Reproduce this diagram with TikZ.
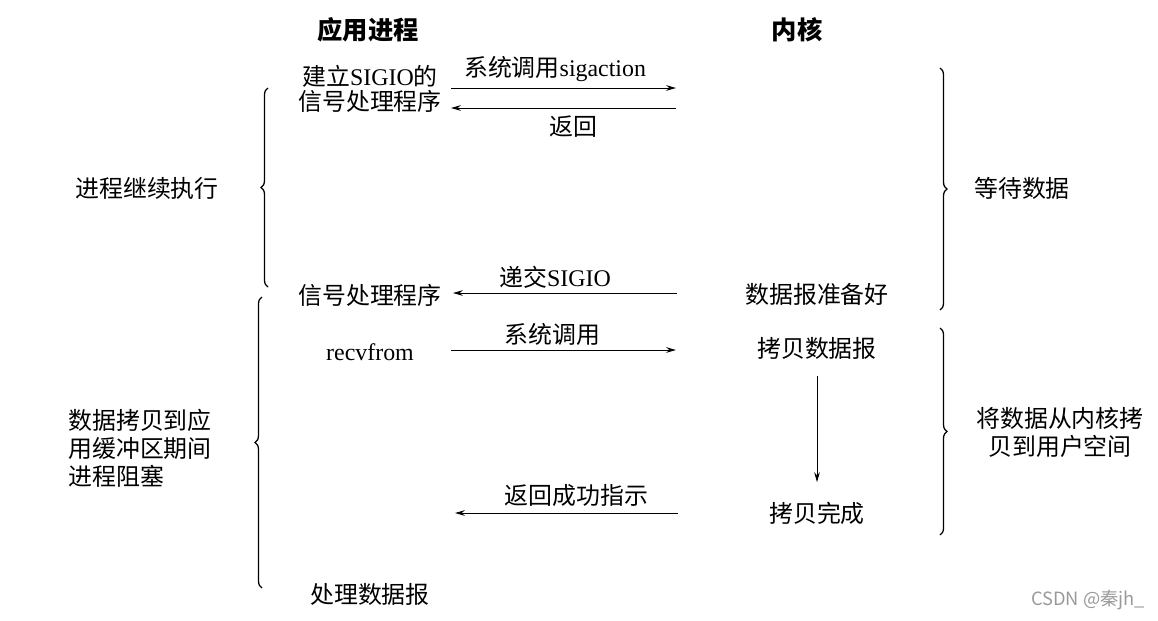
\documentclass[tikz,border=0pt]{standalone}
\usepackage{fontspec}
\setmainfont{Noto Sans CJK SC}
\newfontfamily\lat{Liberation Serif}
\usetikzlibrary{positioning,arrows.meta,decorations.pathreplacing}

\begin{document}
\begin{tikzpicture}[x=0.025cm, y=-0.025cm,
  txt/.style={font=\fontsize{17}{20}\selectfont, inner sep=1pt},
  head/.style={font=\fontsize{18}{20}\selectfont\bfseries, inner sep=1pt},
  msg/.style={-{Stealth[length=7pt,width=4pt]}, line width=0.7pt},
  curly/.style={decorate, decoration={brace, amplitude=5pt}, line width=0.9pt}]
\useasboundingbox (0,0) rectangle (1158,620);

\node[head] (app) at (368,30) {应用进程};
\node[head] (kern) at (797,30) {内核};

% process side
\node[txt, align=center, font=\fontsize{17}{18}\selectfont] (setup) at (370,89) {建立{\lat SIGIO}的\\信号处理程序};
\node[txt] (handler) at (370,295) {信号处理程序};
\node[txt] (recv) at (370,352) {\lat recvfrom};
\node[txt] (proc) at (370,594) {处理数据报};

% kernel side
\node[txt] (ready) at (817,294) {数据报准备好};
\node[txt] (copy) at (817,348) {拷贝数据报};
\node[txt] (done) at (817,513) {拷贝完成};

\coordinate (p1) at (451,88);   \coordinate (k1) at (676,88);
\coordinate (p2) at (451,108);  \coordinate (k2) at (676,108);
\coordinate (p3) at (453,293);  \coordinate (k3) at (677,293);
\coordinate (p4) at (451,350);  \coordinate (k4) at (676,350);
\coordinate (p5) at (455,513);  \coordinate (k5) at (678,513);

\draw[msg] (p1) -- (k1)
    node[txt, midway, above=3pt, xshift=-6pt] {系统调用{\lat sigaction}};
\draw[msg] (k2) -- (p2)
    node[txt, midway, below=4pt, xshift=7pt] {返回};
\draw[msg] (k3) -- (p3)
    node[txt, midway, above=2pt, xshift=-7pt] {递交{\lat SIGIO}};
\draw[msg] (p4) -- (k4)
    node[txt, midway, above=2pt, xshift=-8pt] {系统调用};
\draw[msg] (k5) -- (p5)
    node[txt, midway, above=3pt, xshift=7pt] {返回成功指示};
\draw[msg, shorten <=0.38cm, shorten >=0.45cm] (copy) -- (done);

% braces
\coordinate (lb1a) at (268,287); \coordinate (lb1b) at (268,88);
\coordinate (lb2a) at (262,588); \coordinate (lb2b) at (262,297);
\coordinate (rb1a) at (940,68);  \coordinate (rb1b) at (940,310);
\coordinate (rb2a) at (940,328); \coordinate (rb2b) at (940,535);
\draw[curly] (lb1a) -- (lb1b);
\draw[curly] (lb2a) -- (lb2b);
\draw[curly] (rb1a) -- (rb1b);
\draw[curly] (rb2a) -- (rb2b);

\node[txt] (cont) at (147,188) {进程继续执行};
\node[txt, align=left] (block) at (140,448) {数据拷贝到应\\用缓冲区期间\\进程阻塞};
\node[txt] (wait) at (1022,188) {等待数据};
\node[txt, align=center] (tocopy) at (1060,432) {将数据从内核拷\\贝到用户空间};

\node[font=\fontsize{13}{13}\selectfont, text=black!40] (mark) at (1088,600) {CSDN @秦jh\_};

\end{tikzpicture}
\end{document}
